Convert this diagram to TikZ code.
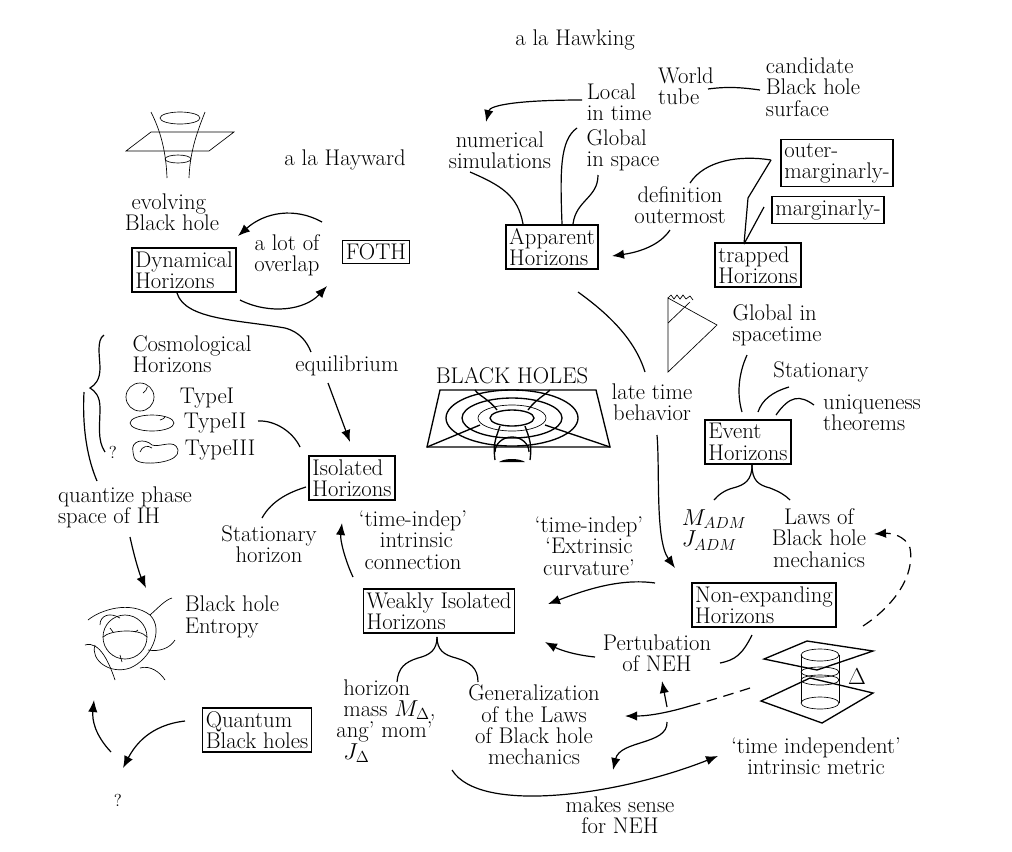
\documentclass[tikz,border=0pt]{standalone}
\usetikzlibrary{arrows.meta}
\begin{document}
\begin{tikzpicture}[x=0.75pt,y=-0.75pt,
  every node/.style={font=\fontsize{17}{16}\selectfont, inner sep=1pt, align=center},
  box/.style={draw, line width=1.1pt, inner sep=2.5pt, align=left},
  lab/.style={align=left},
  con/.style={line width=0.9pt},
  arr/.style={con,-{Latex[length=9pt,width=7pt]}},
  pic/.style={line width=0.5pt},
  picb/.style={line width=1pt}]
\useasboundingbox (0,0) rectangle (1012,851);
% texts
\node (hawk) at (575,40) {a la Hawking};
\node[lab] (local) at (619,102) {Local\\in time};
\node[lab] (world) at (686,86) {World\\tube};
\node[lab] (cand) at (813,87) {candidate\\Black hole\\surface};
\node (num) at (500,150) {numerical\\simulations};
\node[lab] (glob) at (623,150) {Global\\in space};
\node[box] (outer) at (837,163) {outer-\\marginarly-};
\node[box] (marg) at (828,210) {marginarly-};
\node[box] (trap) at (758,265) {trapped\\Horizons};
\node (defi) at (680,205) {definition\\outermost};
\node[box] (app) at (552,247) {Apparent\\Horizons};
\node (hay) at (345,160) {a la Hayward};
\node[lab] (evol) at (172,212) {\ evolving\\Black hole};
\node[box] (foth) at (376,252) {FOTH};
\node[box] (dyn) at (184,270) {Dynamical\\Horizons};
\node (over) at (287,255) {a lot of\\overlap};
\node[lab] (cosmo) at (192,354) {Cosmological\\Horizons};
\node[lab] (t1) at (207,398) {TypeI};
\node[lab] (t2) at (215,423) {TypeII};
\node[lab] (t3) at (220,450) {TypeIII};
\node (qm) at (113,452) {\fontsize{13}{13}\selectfont ?};
\node (equi) at (347,366) {equilibrium};
\node (bh) at (512,376) {BLACK HOLES};
\node (late) at (652,402) {late time\\behavior};
\node[lab] (gst) at (777,325) {Global in\\spacetime};
\node (stat) at (821,372) {Stationary};
\node[lab] (uniq) at (872,413) {uniqueness\\theorems};
\node[box] (event) at (748,442) {Event\\Horizons};
\node[box] (iso) at (352,478) {Isolated\\Horizons};
\node[lab] (quant) at (125,507) {quantize phase\\space of IH};
\node (stath) at (269,544) {Stationary\\horizon};
\node (tic) at (413,540) {`time-indep'\\\ intrinsic\\connection};
\node (tec) at (589,546) {`time-indep'\\`Extrinsic\\curvature'};
\node[lab] (madm) at (714,530) {$M_{ADM}$\\$J_{ADM}$};
\node (laws) at (819,538) {Laws of\\Black hole\\mechanics};
\node[box] (neh) at (764,605) {Non-expanding\\Horizons};
\node[box] (wih) at (439,611) {Weakly Isolated\\Horizons};
\node[lab] (ent) at (232,617) {Black hole\\Entropy};
\node (pert) at (657,653) {Pertubation\\of NEH};
\node (delta) at (857,677) {$\Delta$};
\node[lab] (hm) at (386,721) {\ horizon\\\ mass $M_\Delta$,\\ang' mom'\\\ $J_\Delta$};
\node (gen) at (534,725) {Generalization\\of the Laws\\of Black hole\\mechanics};
\node[box] (qbh) at (257,730) {Quantum\\Black holes};
\node (qm2) at (118,800) {\fontsize{13}{13}\selectfont ?};
\node (tim) at (816,756) {`time independent'\\intrinsic metric};
\node (mks) at (620,815) {makes sense\\for NEH};
% connectors top
\draw[arr] (582,100) .. controls (520,100) and (490,105) .. (486,122);
\draw[con] (523,224) .. controls (518,195) and (500,185) .. (470,172);
\draw[con] (562,224) .. controls (560,170) and (560,140) .. (577,128);
\draw[con] (573,224) .. controls (576,200) and (598,198) .. (598,175);
\draw[con] (708,89) .. controls (730,86) and (745,88) .. (760,90);
\draw[con] (771,160) .. controls (740,155) and (705,160) .. (690,183);
\draw[con] (744,244) -- (748,198) -- (771,160);
\draw[con] (744,244) -- (764,207);
\draw[arr] (670,230) .. controls (660,245) and (640,252) .. (612,256);
\draw[con] (578,292) .. controls (610,315) and (635,340) .. (645,372);
\draw[arr] (657,435) .. controls (660,470) and (655,540) .. (675,568);
% penrose
\draw[pic] (668,372) -- (668,298) -- (717,325) -- cycle;
\draw[pic] (668,323) -- (690,302);
\draw[pic] (668,298) -- (671,295) -- (674,299) -- (677,295) -- (680,299) -- (683,295) -- (686,299) -- (690,296) -- (693,300);
\draw[con] (747,355) .. controls (738,375) and (737,395) .. (742,412);
\draw[con] (789,387) .. controls (772,392) and (762,400) .. (758,412);
\draw[con] (814,405) .. controls (800,395) and (790,395) .. (776,415);
\draw[con] (752,465) .. controls (752,480) and (745,485) .. (733,488) .. controls (725,490) and (718,495) .. (714,500);
\draw[con] (752,465) .. controls (752,480) and (758,485) .. (770,488) .. controls (780,492) and (785,495) .. (790,500);
\draw[arr,dashed,dash pattern=on 8pt off 5pt] (863,626) .. controls (895,605) and (915,575) .. (910,548) .. controls (905,535) and (890,533) .. (874,534);
\draw[con] (752,635) .. controls (742,655) and (735,660) .. (720,663);
\draw[arr] (655,583) .. controls (620,578) and (585,590) .. (548,604);
\draw[arr] (595,657) .. controls (575,655) and (560,650) .. (545,642);
\draw[con,dashed,dash pattern=on 8pt off 5pt] (750,688) .. controls (725,696) and (705,702) .. (690,706);
\draw[arr] (690,706) .. controls (670,712) and (650,716) .. (625,716);
\draw[arr] (667,707) -- (662,681);
\draw[arr] (667,722) .. controls (668,745) and (620,740) .. (613,770);
\draw[arr] (452,770) .. controls (480,815) and (620,795) .. (718,756);
% weakly
\draw[con] (437,637) .. controls (437,650) and (430,655) .. (418,658) .. controls (405,662) and (398,668) .. (397,682);
\draw[con] (437,637) .. controls (437,650) and (444,655) .. (456,658) .. controls (470,662) and (478,668) .. (478,682);
\draw[arr] (353,577) .. controls (345,560) and (340,540) .. (342,523);
\draw[con] (262,518) .. controls (272,500) and (290,492) .. (306,487);
\draw[con] (258,421) .. controls (275,420) and (293,432) .. (300,447);
\draw[con] (177,293) .. controls (185,320) and (240,320) .. (285,328) .. controls (300,332) and (307,342) .. (311,352);
\draw[arr] (328,383) -- (350,442);
\draw[arr] (322,222) .. controls (295,207) and (265,212) .. (238,236);
\draw[arr] (240,300) .. controls (270,315) and (305,310) .. (327,286);
% brace
\draw[con] (104,335) .. controls (96,340) and (100,358) .. (100,368) .. controls (100,380) and (95,385) .. (90,388) .. controls (95,391) and (100,396) .. (100,408) .. controls (100,425) and (97,440) .. (105,452);
\draw[con] (84,392) .. controls (82,430) and (88,460) .. (97,481);
\draw[arr] (130,537) .. controls (135,560) and (140,575) .. (146,588);
\draw[arr] (111,752) .. controls (95,735) and (92,720) .. (94,700);
\draw[arr] (185,721) .. controls (150,725) and (135,745) .. (123,768);
% types
\draw[pic] (140,397) circle (14);
\draw[pic] (143,393) arc (60:10:9);
\draw[pic] (152,423) ellipse (22 and 8);
\draw[pic] (160,420) arc (60:0:10 and 4);
\draw[pic] (133,452) .. controls (130,440) and (145,438) .. (152,445) .. controls (160,448) and (175,438) .. (178,450) .. controls (180,462) and (150,465) .. (140,462) .. controls (133,460) and (134,456) .. (133,452);
\draw[pic] (140,452) .. controls (142,446) and (148,445) .. (152,448);
% funnel
\draw[pic] (126,151) -- (151,132) -- (234,132) -- (209,151) -- cycle;
\draw[pic] (180,118) ellipse (20 and 6);
\draw[pic] (178,159) ellipse (13 and 4);
\draw[pic] (151,112) .. controls (160,130) and (166,150) .. (167,178);
\draw[pic] (205,112) .. controls (198,130) and (190,150) .. (189,178);
% black holes picture
\draw[picb] (440,390) -- (596,390) -- (610,447) -- (427,447) -- cycle;
\draw[picb] (512,418) ellipse (66 and 28);
\draw[picb] (512,418) ellipse (50 and 20);
\draw[pic] (512,418) ellipse (34 and 13);
\draw[picb] (512,418) ellipse (22 and 8);
\draw[picb] (427,447) -- (480,425);
\draw[picb] (610,447) -- (545,425);
\draw[picb] (500,426) .. controls (495,440) and (493,445) .. (495,460);
\draw[picb] (525,426) .. controls (530,440) and (532,445) .. (530,460);
\draw[picb] (497,410) .. controls (490,400) and (478,395) .. (475,390);
\draw[picb] (528,410) .. controls (535,400) and (545,395) .. (550,390);
\draw[picb] (495,452) arc (180:360:17 and 15);
\fill (499,462) arc (210:330:15 and 6) -- cycle;
% entropy
\draw[pic] (125,637) circle (22);
\draw[pic] (103,637) .. controls (110,630) and (140,628) .. (147,637);
\draw[pic] (88,620) .. controls (100,610) and (130,600) .. (150,615) .. controls (165,630) and (150,660) .. (130,668) .. controls (110,675) and (90,660) .. (95,645);
\draw[pic] (85,645) .. controls (100,640) and (110,665) .. (115,680);
\draw[pic] (140,668) .. controls (150,665) and (160,672) .. (165,680);
\draw[pic] (150,615) .. controls (158,608) and (165,600) .. (172,598);
\draw[pic] (148,650) .. controls (160,652) and (170,648) .. (175,640);
\draw[pic] (100,625) .. controls (100,615) and (110,612) .. (120,618);
\draw[pic] (120,655) -- (122,662);
\draw[pic] (110,628) -- (113,632);
\draw[pic] (135,632) -- (138,630);
% cylinder
\draw[picb] (764,659) -- (807,641) -- (873,651) -- (817,670) -- cycle;
\draw[picb] (761,701) -- (810,678) -- (873,693) -- (822,723) -- cycle;
\draw[pic] (820,655) ellipse (19 and 6);
\draw[pic] (820,672) ellipse (19 and 5);
\draw[pic] (820,680) ellipse (19 and 5);
\draw[pic] (820,703) ellipse (19 and 6);
\draw[pic] (801,655) -- (801,703);
\draw[pic] (839,655) -- (839,703);
\end{tikzpicture}
\end{document}
